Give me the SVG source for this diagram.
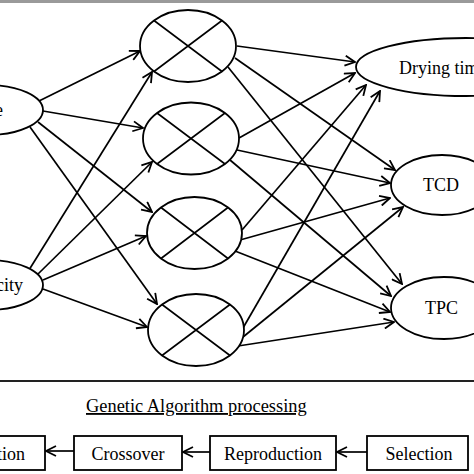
<svg xmlns="http://www.w3.org/2000/svg" width="474" height="474" viewBox="0 0 474 474">
<style>
.n{fill:#fff;stroke:#000;stroke-width:1.8}
.x{stroke:#000;stroke-width:1.6;fill:none}
.e{stroke:#000;stroke-width:1.7;fill:none;marker-end:url(#ah)}
.t{font-family:"Liberation Serif","Times New Roman",serif;font-size:18px;fill:#000}
</style>
<defs>
<marker id="ah" viewBox="0 0 12 12" refX="11" refY="6" markerWidth="12" markerHeight="12" markerUnits="userSpaceOnUse" orient="auto">
<path d="M1,1 L11,6 L1,11" fill="none" stroke="#000" stroke-width="1.8"/>
</marker>
</defs>
<rect x="0" y="0" width="474" height="474" fill="#fff"/>
<rect x="0" y="0" width="474" height="3" fill="#9a9a9a"/>
<g id="connectors">
<line class="e" x1="39" y1="101" x2="140" y2="51"/>
<line class="e" x1="43" y1="111" x2="143" y2="128"/>
<line class="e" x1="38" y1="122" x2="152" y2="212"/>
<line class="e" x1="30" y1="127" x2="157" y2="304"/>
<line class="e" x1="29" y1="270" x2="152" y2="72"/>
<line class="e" x1="38" y1="274" x2="152" y2="162"/>
<line class="e" x1="43" y1="280" x2="146" y2="236"/>
<line class="e" x1="43" y1="289" x2="147" y2="327"/>
<line class="e" x1="237" y1="46" x2="355" y2="62"/>
<line class="e" x1="235" y1="58" x2="395" y2="170"/>
<line class="e" x1="228" y1="67" x2="402" y2="284"/>
<line class="e" x1="239" y1="138" x2="355" y2="73"/>
<line class="e" x1="237" y1="150" x2="390" y2="183"/>
<line class="e" x1="230" y1="160" x2="391" y2="296"/>
<line class="e" x1="242" y1="230" x2="366" y2="85"/>
<line class="e" x1="240" y1="240" x2="390" y2="198"/>
<line class="e" x1="235" y1="251" x2="390" y2="312"/>
<line class="e" x1="243" y1="328" x2="380" y2="91"/>
<line class="e" x1="243" y1="337" x2="403" y2="207"/>
<line class="e" x1="238" y1="346" x2="394" y2="322"/>
<line class="e" x1="74" y1="451" x2="46" y2="451"/>
<line class="e" x1="210" y1="452" x2="183" y2="452"/>
<line class="e" x1="367" y1="452" x2="337" y2="452"/>
</g>
<g id="in1">
<ellipse class="n" cx="-12" cy="110" rx="55" ry="25"/>
<text class="t" x="3" y="116" text-anchor="end">e</text>
</g>
<g id="in2">
<ellipse class="n" cx="-12" cy="285" rx="55" ry="25"/>
<text class="t" x="23" y="291" text-anchor="end">city</text>
</g>
<g id="h1">
<ellipse class="n" cx="188" cy="46" rx="48" ry="36"/>
<path class="x" d="M154,20.5 L222,71.5 M222,20.5 L154,71.5"/>
</g>
<g id="h2">
<ellipse class="n" cx="191" cy="138.5" rx="48" ry="36"/>
<path class="x" d="M157,113 L225,164 M225,113 L157,164"/>
</g>
<g id="h3">
<ellipse class="n" cx="194.5" cy="233" rx="47.5" ry="36"/>
<path class="x" d="M161,207.5 L228,258.5 M228,207.5 L161,258.5"/>
</g>
<g id="h4">
<ellipse class="n" cx="196" cy="330" rx="48" ry="36"/>
<path class="x" d="M162,304.5 L230,355.5 M230,304.5 L162,355.5"/>
</g>
<g id="out1">
<ellipse class="n" cx="466" cy="67" rx="110" ry="29"/>
<text class="t" x="399" y="74">Drying tim</text>
</g>
<g id="out2">
<ellipse class="n" cx="442" cy="185" rx="51" ry="30"/>
<text class="t" x="441" y="191" text-anchor="middle">TCD</text>
</g>
<g id="out3">
<ellipse class="n" cx="444" cy="308" rx="53" ry="31"/>
<text class="t" x="441.5" y="314" text-anchor="middle">TPC</text>
</g>
<line x1="0" y1="381" x2="474" y2="381" stroke="#222" stroke-width="2"/>
<g id="title">
<text class="t" x="86" y="412" text-decoration="underline" style="font-size:18.4px">Genetic Algorithm processing</text>
</g>
<g id="mutation">
<rect class="n" x="-10" y="436" width="55" height="34"/>
<text class="t" x="25" y="460" text-anchor="end">tion</text>
</g>
<g id="crossover">
<rect class="n" x="74" y="436" width="108" height="34"/>
<text class="t" x="128" y="460" text-anchor="middle">Crossover</text>
</g>
<g id="reproduction">
<rect class="n" x="210" y="436" width="126" height="34"/>
<text class="t" x="273" y="460" text-anchor="middle">Reproduction</text>
</g>
<g id="selection">
<rect class="n" x="367" y="436" width="101" height="34"/>
<text class="t" x="419" y="460" text-anchor="middle">Selection</text>
</g>
</svg>
